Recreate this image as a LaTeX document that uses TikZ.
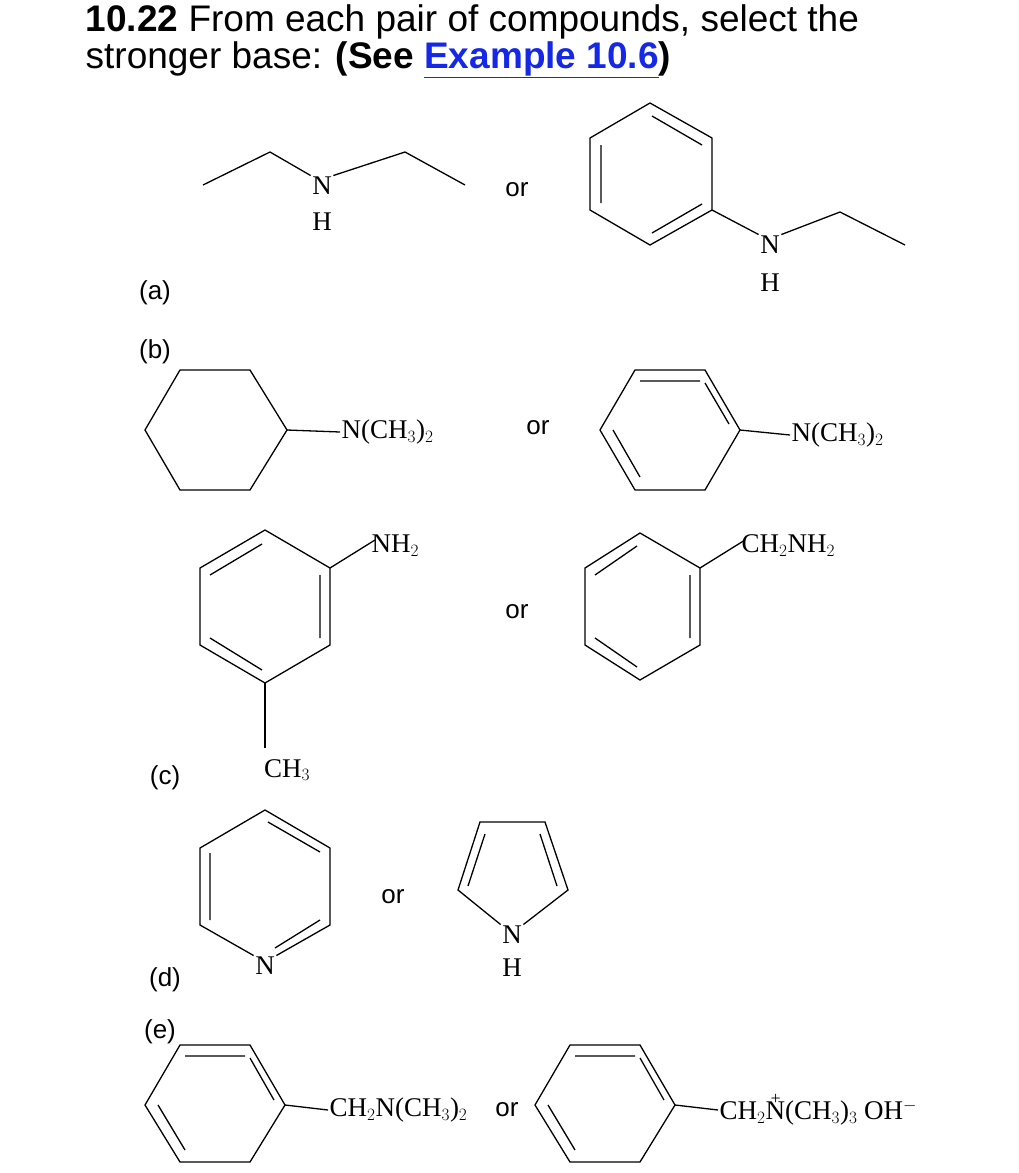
\documentclass[tikz,border=0pt]{standalone}
\usepackage{fontspec}
\setmainfont{Liberation Serif}
\newfontfamily\hv{Liberation Sans}
\usepackage{xcolor}
\definecolor{lnk}{RGB}{20,40,230}
\begin{document}
\begin{tikzpicture}[x=1pt,y=-1pt,line width=1.3pt,
  ch/.style={font=\fontsize{27}{29}\selectfont,inner sep=1pt},
  lab/.style={font=\hv\fontsize{26}{28}\selectfont,inner sep=0pt},
  hd/.style={font=\hv\fontsize{37}{39}\selectfont,inner sep=0pt,anchor=west}]
\useasboundingbox (0,0) rectangle (1018,1173);
\node[hd] (h1) at (85,22) {\textbf{10.22} From each pair of compounds, select the};
\node[hd] (h2) at (85,60) {stronger base: \textbf{(See \textcolor{lnk}{\underline{Example 10.6}})}};
% (a) left
\node[ch] (na) at (322,186) {N};
\node[ch] (ha) at (322,222) {H};
\draw (203,185)--(270,152)--(na.north west);
\draw (na.north east)--(405,152)--(465,185);
\node[lab] (or1) at (517,190) {or};
% (a) right
\draw (590,138)--(650,103)--(712,138)--(712,210)--(650,245)--(590,210)--cycle;
\draw (601,145)--(601,203) (652,116)--(702,145) (702,204)--(652,233);
\node[ch] (nb) at (770,245) {N};
\node[ch] (hb) at (770,283) {H};
\draw (712,210)--(nb.north west) (nb.north east)--(840,212)--(905,245);
\node[lab] (la) at (155,293) {(a)};
\node[lab] (lb) at (155,352) {(b)};
% (b)
\draw (145,430)--(180,370)--(250,370)--(287,430)--(250,490)--(180,490)--cycle;
\node[ch,anchor=west] (nc) at (340,432) {N(CH$_3$)$_2$};
\draw (287,430)--(nc.west);
\node[lab] (or2) at (538,428) {or};
\draw (600,430)--(635,370)--(705,370)--(740,430)--(705,490)--(635,490)--cycle;
\draw (640,381)--(700,381) (613,430)--(640,477) (705,383)--(729,424);
\node[ch,anchor=west] (nd) at (790,435) {N(CH$_3$)$_2$};
\draw (740,430)--(nd.west);
% (c)
\draw (265,530)--(330,568)--(330,645)--(265,683)--(200,645)--(200,568)--cycle;
\draw (210,575)--(262,544) (320,575)--(320,638) (210,638)--(262,670);
\node[ch,anchor=south west] (ne) at (370,558) {NH$_2$};
\draw (330,568)--(375,540);
\node[ch] (ce) at (287,770) {CH$_3$};
\draw (265,683)--(265,748);
\node[lab] (or3) at (517,612) {or};
\draw (640,533)--(700,568)--(700,645)--(640,680)--(585,645)--(585,568)--cycle;
\draw (595,575)--(637,546) (690,575)--(690,638) (595,638)--(637,667);
\node[ch,anchor=south west] (nf) at (740,558) {CH$_2$NH$_2$};
\draw (700,568)--(745,540);
\node[lab] (lc) at (165,778) {(c)};
% (d)
\node[ch] (ng) at (265,966) {N};
\draw (ng.north west)--(200,925)--(200,848)--(265,810)--(330,848)--(330,925)--(ng.north east);
\draw (268,822)--(320,852) (210,853)--(210,920) (320,920)--(275,948);
\node[lab] (or4) at (393,897) {or};
\node[ch] (nh) at (512,935) {N};
\node[ch] (hh) at (512,968) {H};
\draw (nh.north west)--(458,890)--(480,822)--(545,822)--(568,890)--(nh.north east);
\draw (485,834)--(468,886) (540,834)--(557,886);
\node[lab] (ld) at (165,980) {(d)};
\node[lab] (le) at (160,1032) {(e)};
% (e)
\draw (145,1105)--(180,1045)--(250,1045)--(285,1105)--(250,1162)--(180,1162)--cycle;
\draw (185,1056)--(245,1056) (158,1105)--(185,1150) (250,1058)--(274,1100);
\node[ch,anchor=west] (ni) at (328,1110) {CH$_2$N(CH$_3$)$_2$};
\draw (285,1105)--(ni.west);
\node[lab] (or5) at (507,1110) {or};
\draw (535,1105)--(570,1045)--(640,1045)--(675,1105)--(640,1162)--(570,1162)--cycle;
\draw (575,1056)--(635,1056) (548,1105)--(575,1150) (640,1058)--(664,1100);
\node[ch,anchor=west] (nj) at (718,1110) {CH$_2$\makebox[0pt][l]{\hspace{5pt}\raisebox{15pt}{\fontsize{18}{18}\selectfont +}}N(CH$_3$)$_3$ OH$^-$};
\draw (675,1105)--(nj.west);
\end{tikzpicture}
\end{document}
